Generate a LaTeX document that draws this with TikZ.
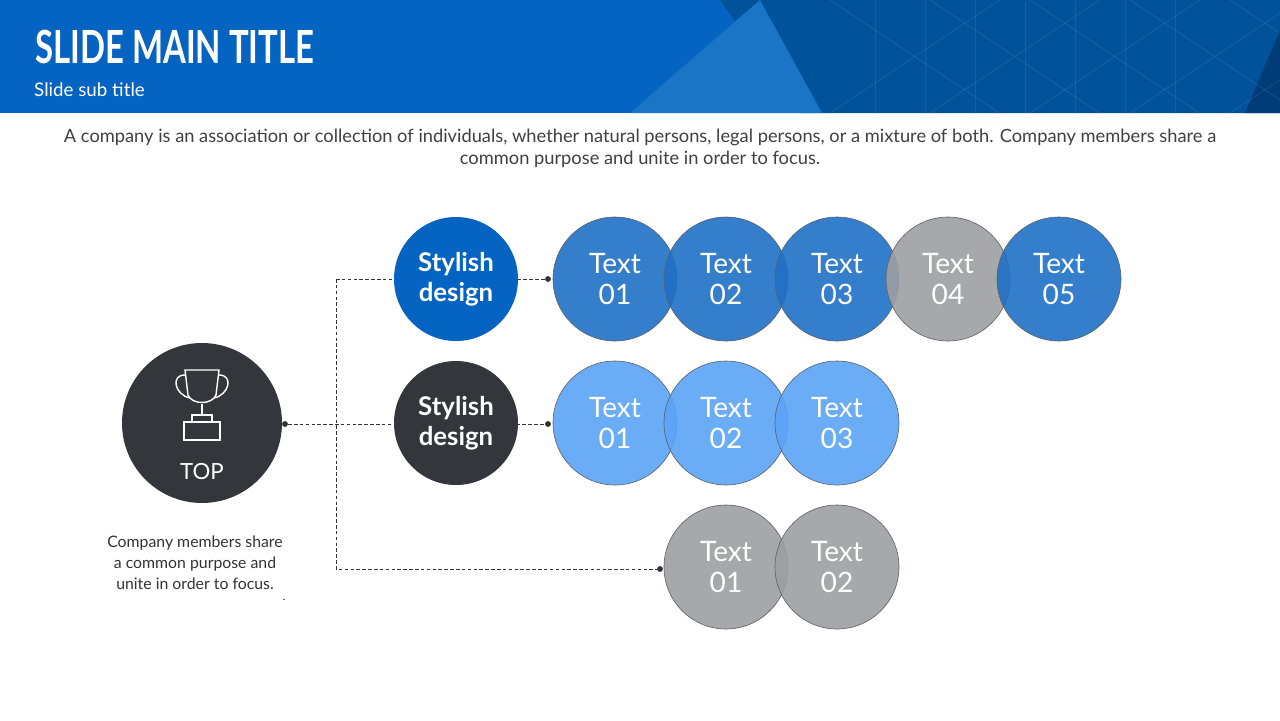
\documentclass[tikz,border=0pt]{standalone}
\usepackage{fontspec}
\setmainfont{Lato}
\definecolor{hdr}{RGB}{5,99,193}
\definecolor{hdrd}{RGB}{0,82,155}
\definecolor{hdrl}{RGB}{26,117,199}
\definecolor{hdrx}{RGB}{0,60,120}
\definecolor{dk}{RGB}{51,54,59}
\definecolor{b1}{RGB}{32,112,198}
\definecolor{b2}{RGB}{92,163,247}
\definecolor{gy}{RGB}{158,159,162}
\begin{document}
\begin{tikzpicture}[x=0.03cm,y=-0.03cm,
 bub/.style={circle,minimum size=124*0.03cm,inner sep=0,draw=dk!80,line width=0.5pt,fill opacity=0.9,text opacity=1,text=white,font=\fontsize{24}{27}\selectfont,align=center},
 hub/.style={circle,minimum size=124*0.03cm,inner sep=0,text=white,font=\bfseries\fontsize{22}{26}\selectfont,align=center},
 dl/.style={densely dashed,line width=0.5pt,black!80},
 dot/.style={circle,fill=black!80,inner sep=0,minimum size=5pt}]
\useasboundingbox (0,0) rectangle (1280,720);
\fill[white] (0,0) rectangle (1280,720);
% header
\fill[hdr] (0,0) rectangle (1280,113);
\fill[hdrd] (720,0) -- (1280,0) -- (1280,113) -- (800,113) -- cycle;
\fill[hdrl] (760,0) -- (822,113) -- (630,113) -- cycle;
\fill[hdrx] (1280,30) -- (1280,113) -- (1245,113) -- cycle;
\begin{scope}
\clip (800,0) rectangle (1280,113);
\foreach \i in {0,...,6}{\draw[white,opacity=0.12] (800+\i*100,-20) -- ++(300,200); \draw[white,opacity=0.12] (800+\i*100,133) -- ++(300,-200);\draw[white,opacity=0.08] (875+\i*50,0) -- ++(0,113);}
\end{scope}
\node[anchor=west,text=white,font=\bfseries\fontsize{39}{40}\selectfont,inner sep=0] (title) at (35,47) {\addfontfeature{FakeStretch=0.72}SLIDE MAIN TITLE};
\node[anchor=west,text=white,font=\fontsize{16}{18}\selectfont,inner sep=0] (sub) at (34,90) {Slide sub title};
\node[text=black!75,font=\fontsize{15.6}{19}\selectfont,align=center] (intro) at (640,148) {A company is an association or collection of individuals, whether natural persons, legal persons, or a mixture of both. Company members share a\\common purpose and unite in order to focus.};
% connectors
\node[dot] (d0) at (285,424) {};
\node[dot] (d1) at (548,279) {};
\node[dot] (d2) at (548,424) {};
\node[dot] (d3) at (660,569) {};
\coordinate (c1) at (336,279);\coordinate (c3) at (336,569);
\draw[dl] (d0) -- (d2);
\draw[dl] (c1) -- (d1);
\draw[dl] (c1) -- (c3) -- (d3);
% hubs
\node[circle,minimum size=160*0.03cm,fill=dk] (top) at (202,423) {};
\node[text=white,font=\fontsize{19}{22}\selectfont] (toptxt) at (202,472) {TOP};
\begin{scope}[white,line width=1.2pt]
\draw (185,370) -- (219,370) -- (216,395) .. controls (212,405) and (192,405) .. (188,395) -- cycle;
\draw (185,375) .. controls (170,375) and (175,395) .. (190,398);
\draw (219,375) .. controls (234,375) and (229,395) .. (214,398);
\draw (202,404) -- (202,415);
\draw (192,415) rectangle (212,422);
\draw (184,422) rectangle (220,440);
\end{scope}
\node[hub,fill=hdr] (s1) at (456,279) {Stylish\\design};
\node[hub,fill=dk] (s2) at (456,423) {Stylish\\design};
\node[text=black!80,font=\fontsize{13.5}{18}\selectfont,align=center] (desc) at (195,563) {Company members share\\a common purpose and\\unite in order to focus.};
\node[font=\small] (dt) at (284,600) {.};
\foreach \x/\n/\c in {615/01/b1,726/02/b1,837/03/b1,948/04/gy,1059/05/b1}
 \node[bub,fill=\c] (r1\n) at (\x,279) {Text\\\n};
\foreach \x/\n in {615/01,726/02,837/03}
 \node[bub,fill=b2] (r2\n) at (\x,423) {Text\\\n};
\foreach \x/\n in {726/01,837/02}
 \node[bub,fill=gy] (r3\n) at (\x,567) {Text\\\n};
\end{tikzpicture}
\end{document}
